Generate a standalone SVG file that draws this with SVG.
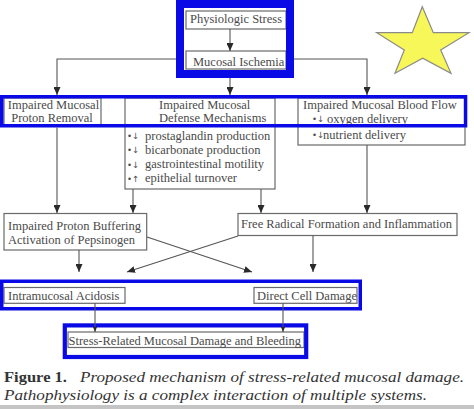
<svg xmlns="http://www.w3.org/2000/svg" width="474" height="409" viewBox="0 0 474 409">
<defs>
<style>
.t{font-family:"Liberation Serif","Times New Roman",serif;font-size:12.5px;fill:#4a4a4a}
.b{font-family:"DejaVu Sans","Liberation Sans",sans-serif;font-size:8.5px;fill:#4a4a4a}
.box{fill:#fff;stroke:#6a6a6a;stroke-width:1.2}
.blue{fill:none;stroke:#0a0ae6}
.ln{fill:none;stroke:#555;stroke-width:1.1}
.cap{font-family:"Liberation Serif","Times New Roman",serif;font-size:15.5px;fill:#333}
</style>
<marker id="ah" markerUnits="userSpaceOnUse" markerWidth="8" markerHeight="7" refX="8" refY="3.5" orient="auto">
<path d="M0,0 L8,3.5 L0,7 z" fill="#2a2a2a"/>
</marker>
<marker id="as" markerUnits="userSpaceOnUse" markerWidth="5" markerHeight="4" refX="5" refY="2" orient="auto">
<path d="M0,0 L5,2 L0,4 z" fill="#2a2a2a"/>
</marker>
</defs>
<rect width="474" height="409" fill="#fff"/>

<g id="star">
<polygon points="422.3,6.7 433.3,32.7 469,32.7 440.7,50 451,73.3 422.7,58.3 395,73.3 404.3,50 376.7,32.7 412.3,32.7" fill="#f7f75a" stroke="#8a8a8a" stroke-width="1.2"/>
</g>

<g id="node-stress">
<rect class="box" x="186" y="11" width="100" height="18"/>
<text class="t" x="190" y="23">Physiologic Stress</text>
</g>
<g id="node-ischemia">
<rect class="box" x="186" y="51" width="100" height="18"/>
<text class="t" x="193" y="66">Mucosal Ischemia</text>
</g>
<g id="hl-top"><rect class="blue" x="180" y="4" width="110" height="70" stroke-width="8"/></g>

<g id="node-proton-removal">
<rect class="box" x="4" y="98" width="97" height="28"/>
<text class="t" x="53.5" y="108.5" text-anchor="middle">Impaired Mucosal</text>
<text class="t" x="52" y="122" text-anchor="middle">Proton Removal</text>
</g>
<g id="node-defense">
<rect class="box" x="125" y="98" width="150" height="91"/>
<text class="t" x="159" y="108.5">Impaired Mucosal</text>
<text class="t" x="159" y="122">Defense Mechanisms</text>
<text class="b" x="127" y="139">•↓</text><text class="t" x="145" y="139.5">prostaglandin production</text>
<text class="b" x="127" y="153.3">•↓</text><text class="t" x="145" y="153.8">bicarbonate production</text>
<text class="b" x="127" y="167.6">•↓</text><text class="t" x="145" y="168.1">gastrointestinal motility</text>
<text class="b" x="127" y="181.9">•↑</text><text class="t" x="145" y="182.4">epithelial turnover</text>
</g>
<g id="node-bloodflow">
<rect class="box" x="298" y="98" width="167" height="47"/>
<text class="t" x="303" y="108.5">Impaired Mucosal Blood Flow</text>
<text class="b" x="312" y="122">•↓</text><text class="t" x="327" y="122.5">oxygen delivery</text>
<text class="b" x="312" y="138">•↓</text><text class="t" x="323" y="138.5">nutrient delivery</text>
</g>
<g id="hl-row2"><rect class="blue" x="1.75" y="96.75" width="463.8" height="29" stroke-width="3.5"/></g>

<g id="node-buffering">
<rect class="box" x="4" y="213.5" width="142.7" height="36.5"/>
<text class="t" x="8" y="229.5">Impaired Proton Buffering</text>
<text class="t" x="8" y="243.5">Activation of Pepsinogen</text>
</g>
<g id="node-freeradical">
<rect class="box" x="238" y="213.5" width="219" height="22"/>
<text class="t" x="241" y="227.5">Free Radical Formation and Inflammation</text>
</g>

<g id="node-acidosis">
<rect class="box" x="4" y="287.5" width="121" height="15.8"/>
<text class="t" x="8" y="299.5">Intramucosal Acidosis</text>
</g>
<g id="node-celldamage">
<rect class="box" x="254" y="287.5" width="103" height="15.8"/>
<text class="t" x="257" y="299.5">Direct Cell Damage</text>
</g>
<g id="hl-row4"><rect class="blue" x="1.75" y="281.25" width="358.5" height="27.5" stroke-width="3.5"/></g>

<g id="node-bleeding">
<rect class="box" x="68" y="332" width="236" height="15.5"/>
<text class="t" x="68.5" y="344.5">Stress-Related Mucosal Damage and Bleeding</text>
</g>
<g id="hl-row5"><rect class="blue" x="64.8" y="325.4" width="241.4" height="31.6" stroke-width="4.2"/></g>

<g id="connectors">
<path class="ln" d="M230,29 V51" marker-end="url(#ah)"/>
<path class="ln" d="M230,78 V95" marker-end="url(#ah)"/>
<path class="ln" d="M176,59 H57 V95" marker-end="url(#ah)"/>
<path class="ln" d="M294,59 H367 V95" marker-end="url(#ah)"/>
<path class="ln" d="M57,127.5 V213" marker-end="url(#ah)"/>
<path class="ln" d="M133,189 V213" marker-end="url(#ah)"/>
<path class="ln" d="M261,189 V213" marker-end="url(#ah)"/>
<path class="ln" d="M367,145 V213" marker-end="url(#ah)"/>
<path class="ln" d="M79,250 V272" marker-end="url(#ah)"/>
<path class="ln" d="M147,237 L252,272" marker-end="url(#ah)"/>
<path class="ln" d="M238,236 L127,272" marker-end="url(#ah)"/>
<path class="ln" d="M313,235.5 V272" marker-end="url(#ah)"/>
<path class="ln" d="M95,303.3 V332" marker-end="url(#as)"/>
<path class="ln" d="M283,303.3 V332" marker-end="url(#as)"/>
</g>

<g id="caption">
<text class="cap" x="4" y="381.5" font-weight="bold" textLength="63" lengthAdjust="spacingAndGlyphs">Figure 1.</text>
<text class="cap" x="80" y="381.5" font-style="italic" textLength="384" lengthAdjust="spacingAndGlyphs">Proposed mechanism of stress-related mucosal damage.</text>
<text class="cap" x="4" y="399.5" font-style="italic" textLength="423" lengthAdjust="spacingAndGlyphs">Pathophysiology is a complex interaction of multiple systems.</text>
</g>
<rect x="0" y="405" width="474" height="4" fill="#c4c4c4"/>
</svg>
